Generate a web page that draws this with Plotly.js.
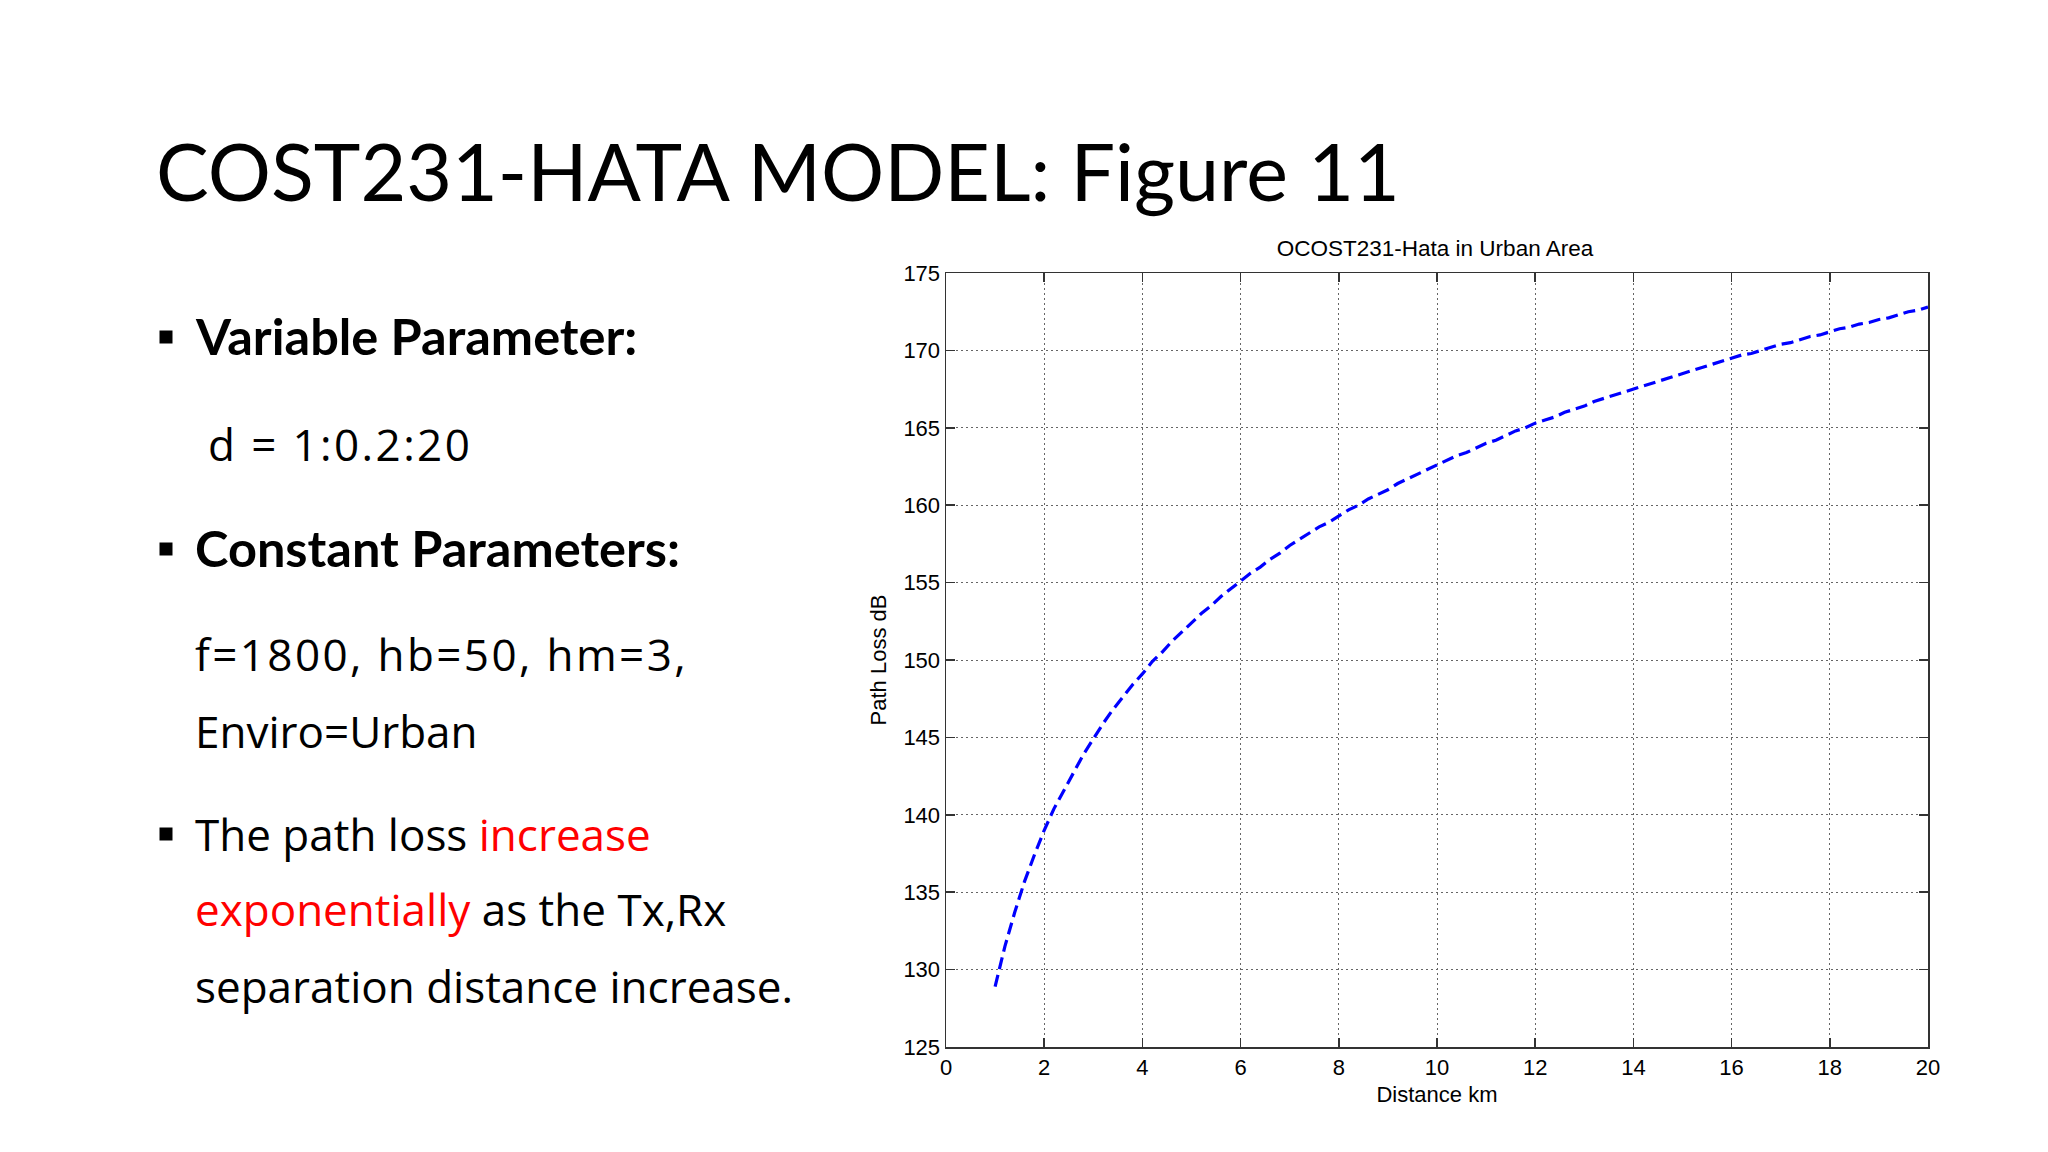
<!DOCTYPE html>
<html>
<head>
<meta charset="utf-8">
<script src="https://cdn.plot.ly/plotly-3.0.1.min.js"></script>
<style>
  html, body { margin: 0; padding: 0; background: #ffffff; }
  #chart { width: 2048px; height: 1152px; }
</style>
</head>
<body>
<div id="chart"></div>
<script>
// ---- data ----
const distanceKm = [
  1.0, 1.2, 1.4, 1.6, 1.8, 2.0, 2.2, 2.4, 2.6, 2.8,
  3.0, 3.2, 3.4, 3.6, 3.8, 4.0, 4.2, 4.4, 4.6, 4.8,
  5.0, 5.2, 5.4, 5.6, 5.8, 6.0, 6.2, 6.4, 6.6, 6.8,
  7.0, 7.2, 7.4, 7.6, 7.8, 8.0, 8.2, 8.4, 8.6, 8.8,
  9.0, 9.2, 9.4, 9.6, 9.8, 10.0, 10.2, 10.4, 10.6, 10.8,
  11.0, 11.2, 11.4, 11.6, 11.8, 12.0, 12.2, 12.4, 12.6, 12.8,
  13.0, 13.2, 13.4, 13.6, 13.8, 14.0, 14.2, 14.4, 14.6, 14.8,
  15.0, 15.2, 15.4, 15.6, 15.8, 16.0, 16.2, 16.4, 16.6, 16.8,
  17.0, 17.2, 17.4, 17.6, 17.8, 18.0, 18.2, 18.4, 18.6, 18.8,
  19.0, 19.2, 19.4, 19.6, 19.8, 20.0
];
const pathLossDb = [
  128.9, 131.5, 133.7, 135.7, 137.4, 139.0, 140.4, 141.6, 142.8, 143.9,
  144.9, 145.9, 146.8, 147.6, 148.4, 149.1, 149.9, 150.5, 151.2, 151.8,
  152.4, 153.0, 153.5, 154.1, 154.6, 155.1, 155.6, 156.0, 156.5, 156.9,
  157.4, 157.8, 158.2, 158.6, 158.9, 159.3, 159.7, 160.0, 160.4, 160.7,
  161.0, 161.4, 161.7, 162.0, 162.3, 162.6, 162.9, 163.2, 163.4, 163.7,
  164.0, 164.2, 164.5, 164.8, 165.0, 165.3, 165.5, 165.7, 166.0, 166.2,
  166.4, 166.7, 166.9, 167.1, 167.3, 167.5, 167.7, 167.9, 168.1, 168.3,
  168.5, 168.7, 168.9, 169.1, 169.3, 169.5, 169.7, 169.8, 170.0, 170.2,
  170.4, 170.5, 170.7, 170.9, 171.0, 171.2, 171.4, 171.5, 171.7, 171.8,
  172.0, 172.1, 172.3, 172.5, 172.6, 172.8
];
const xTickValues = [0, 2, 4, 6, 8, 10, 12, 14, 16, 18, 20];
const yTickValues = [125, 130, 135, 140, 145, 150, 155, 160, 165, 170, 175];

const chartTitle = "OCOST231-Hata in Urban Area";
const xAxisTitle = "Distance km";
const yAxisTitle = "Path Loss dB";

const slideTitle = "COST231-HATA MODEL: Figure 11";
const heading1 = "Variable Parameter:";
const line1 = "<span style=\"letter-spacing:2.4px\">d = 1:0.2:20</span>";
const heading2 = "Constant Parameters:";
const line2a = "<span style=\"letter-spacing:2.4px\">f=1800, hb=50, hm=3,</span>";
const line2b = "Enviro=Urban";
const line3a = "The path loss <span style=\"color:#ff0000\">increase</span>";
const line3b = "<span style=\"color:#ff0000\">exponentially</span> as the Tx,Rx";
const line3c = "separation distance increase.";

// ---- layout geometry ----
const W = 2048, H = 1152;
const plotL = 946, plotR = 1928, plotT = 273, plotB = 1047;
const pw = plotR - plotL, ph = plotB - plotT;
const px = x => (x - plotL) / pw;
const py = y => (plotB - y) / ph;

const titleFont = "Lato, 'Open Sans', sans-serif";
const headFont = "Lato, 'Open Sans', sans-serif";
const bodyFont = "'Open Sans', 'Noto Sans', sans-serif";
const axFont = "'Liberation Sans', Arial, sans-serif";

function textAnn(text, left, baseline, size, family, bold, k) {
  // centre of the text box sits roughly k em above the baseline
  return {
    text: bold ? "<b>" + text + "</b>" : text,
    xref: "paper", yref: "paper",
    x: px(left), y: py(baseline - k * size),
    xanchor: "left", yanchor: "middle",
    showarrow: false, align: "left", borderpad: 0,
    font: { family: family, size: size, color: "#000000" }
  };
}
function bullet(cx, cy) {
  return {
    type: "rect", xref: "paper", yref: "paper",
    x0: px(cx - 6.5), x1: px(cx + 6.5), y0: py(cy + 6.5), y1: py(cy - 6.5),
    fillcolor: "#000000", line: { width: 0 }
  };
}

const trace = {
  x: distanceKm, y: pathLossDb,
  type: "scatter", mode: "lines",
  line: { color: "#0000ff", width: 3.2, dash: "12px,6px" },
  hoverinfo: "skip", showlegend: false
};

const axisCommon = {
  showline: true, linecolor: "#333333", linewidth: 1.5, mirror: "ticks",
  ticks: "inside", ticklen: 9, tickwidth: 1.5, tickcolor: "#333333",
  showgrid: true, gridcolor: "#666666", gridwidth: 1, griddash: "1.5px,3.5px",
  zeroline: false, tickfont: { family: axFont, size: 22, color: "#000000" },
  automargin: false, fixedrange: true
};

const layout = {
  width: W, height: H,
  paper_bgcolor: "#ffffff", plot_bgcolor: "#ffffff",
  margin: { l: plotL, r: W - plotR, t: plotT, b: H - plotB, pad: 0 },
  showlegend: false,
  title: {
    text: chartTitle, x: 1435 / W, xanchor: "center",
    y: 1 - 248 / H, yanchor: "middle",
    font: { family: axFont, size: 22.5, color: "#000000" }
  },
  xaxis: Object.assign({}, axisCommon, {
    range: [0, 20], tickvals: xTickValues, ticktext: xTickValues.map(String),
    title: { text: xAxisTitle, standoff: 7, font: { family: axFont, size: 22, color: "#000000" } }
  }),
  yaxis: Object.assign({}, axisCommon, {
    range: [125, 175], tickvals: yTickValues, ticktext: yTickValues.map(String),
    title: { text: yAxisTitle, standoff: 10, font: { family: axFont, size: 22, color: "#000000" } }
  }),
  annotations: [
    textAnn(slideTitle, 155, 201, 79, titleFont, false, 0.39),
    textAnn(heading1, 194, 355, 50.5, headFont, true, 0.39),
    textAnn(line1, 207, 460, 44, bodyFont, false, 0.36),
    textAnn(heading2, 194, 567, 50.5, headFont, true, 0.39),
    textAnn(line2a, 194, 670, 44, bodyFont, false, 0.36),
    textAnn(line2b, 194, 747, 44, bodyFont, false, 0.36),
    textAnn(line3a, 194, 850, 44, bodyFont, false, 0.36),
    textAnn(line3b, 194, 925, 44, bodyFont, false, 0.36),
    textAnn(line3c, 194, 1002, 44, bodyFont, false, 0.36)
  ],
  shapes: [
    bullet(166, 337),
    bullet(166, 549),
    bullet(166, 834)
  ]
};

Plotly.newPlot("chart", [trace], layout, { displayModeBar: false, staticPlot: true });
</script>
</body>
</html>
